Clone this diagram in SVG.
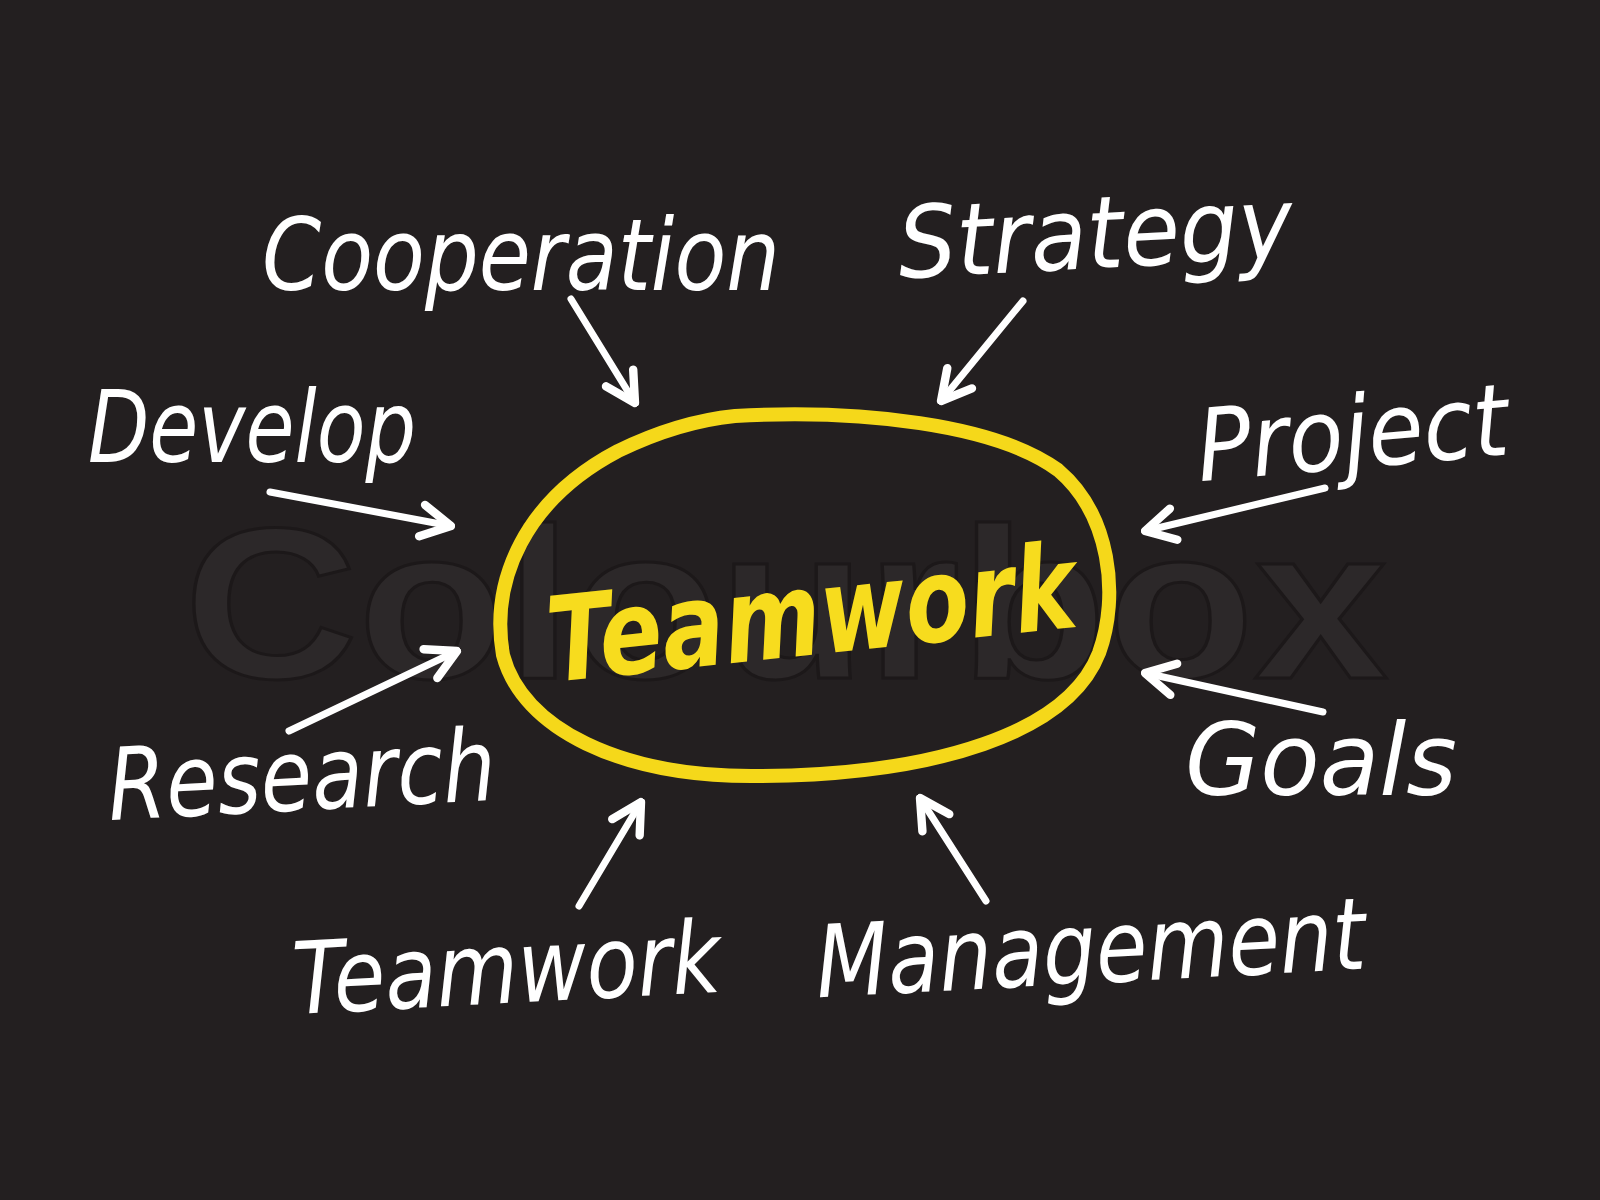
<svg xmlns="http://www.w3.org/2000/svg" width="1600" height="1200" viewBox="0 0 1600 1200">
<defs>
<style>
.bg{fill:#231f20}
.wm{font-family:"Liberation Sans",Arial,sans-serif;font-weight:bold;font-size:215px;fill:#2c2829;stroke:#1c1819;stroke-width:3}
.lbl{font-family:"DejaVu Sans","Liberation Sans",sans-serif;font-style:oblique;fill:#ffffff;font-size:100px}
.ctr{font-family:"DejaVu Sans","Liberation Sans",sans-serif;font-style:oblique;fill:#f7dc1e;font-size:118px;font-weight:bold}
.arr{fill:none;stroke:#ffffff;stroke-width:7;stroke-linecap:round;marker-end:url(#head)}
</style>
<marker id="head" viewBox="0 0 10 10" refX="9" refY="5" markerWidth="6" markerHeight="6" orient="auto" markerUnits="strokeWidth">
<path d="M2,1.2 L9,5 L2,8.8" fill="none" stroke="#ffffff" stroke-width="2" stroke-linecap="round" stroke-linejoin="round"/>
</marker>
</defs>
<rect class="bg" x="0" y="0" width="1600" height="1200"/>
<text class="wm" x="184" y="678" textLength="1204" lengthAdjust="spacingAndGlyphs">Colourbox</text>

<g id="center">
<path d="M735,416 C860,409 995,424 1058,470 C1110,514 1120,595 1099,653 C1068,733 935,775 760,776 C620,778 522,728 503,655 C490,580 525,500 618,451 C655,433 695,420 735,416 Z" fill="none" stroke="#f5d81a" stroke-width="14" stroke-linejoin="round"/>
<text class="ctr" x="545" y="655" textLength="530" lengthAdjust="spacingAndGlyphs" transform="rotate(-6 806 600)">Teamwork</text>
</g>

<g id="n-cooperation"><text class="lbl" x="262" y="290" textLength="518" lengthAdjust="spacingAndGlyphs">Cooperation</text></g>
<g id="n-strategy"><text class="lbl" x="898" y="268" textLength="395" lengthAdjust="spacingAndGlyphs" transform="rotate(-3 1095 240)">Strategy</text></g>
<g id="n-develop"><text class="lbl" x="88" y="462" textLength="328" lengthAdjust="spacingAndGlyphs">Develop</text></g>
<g id="n-project"><text class="lbl" x="1196" y="468" textLength="312" lengthAdjust="spacingAndGlyphs" transform="rotate(-5 1350 430)">Project</text></g>
<g id="n-research"><text class="lbl" x="108" y="810" textLength="388" lengthAdjust="spacingAndGlyphs" transform="rotate(-3 300 780)">Research</text></g>
<g id="n-goals"><text class="lbl" x="1185" y="795" textLength="272" lengthAdjust="spacingAndGlyphs">Goals</text></g>
<g id="n-teamwork"><text class="lbl" x="292" y="1003" textLength="428" lengthAdjust="spacingAndGlyphs" transform="rotate(-3 505 960)">Teamwork</text></g>
<g id="n-management"><text class="lbl" x="815" y="983" textLength="550" lengthAdjust="spacingAndGlyphs" transform="rotate(-3 1090 940)">Management</text></g>

<g id="connectors">
<line class="arr" x1="571" y1="299" x2="635" y2="403"/>
<line class="arr" x1="1023" y1="301" x2="941" y2="401"/>
<line class="arr" x1="270" y1="492" x2="451" y2="526"/>
<line class="arr" x1="1325" y1="488" x2="1145" y2="531"/>
<line class="arr" x1="289" y1="731" x2="457" y2="651"/>
<line class="arr" x1="1323" y1="712" x2="1145" y2="673"/>
<line class="arr" x1="579" y1="906" x2="641" y2="802"/>
<line class="arr" x1="986" y1="901" x2="920" y2="798"/>
</g>
</svg>
